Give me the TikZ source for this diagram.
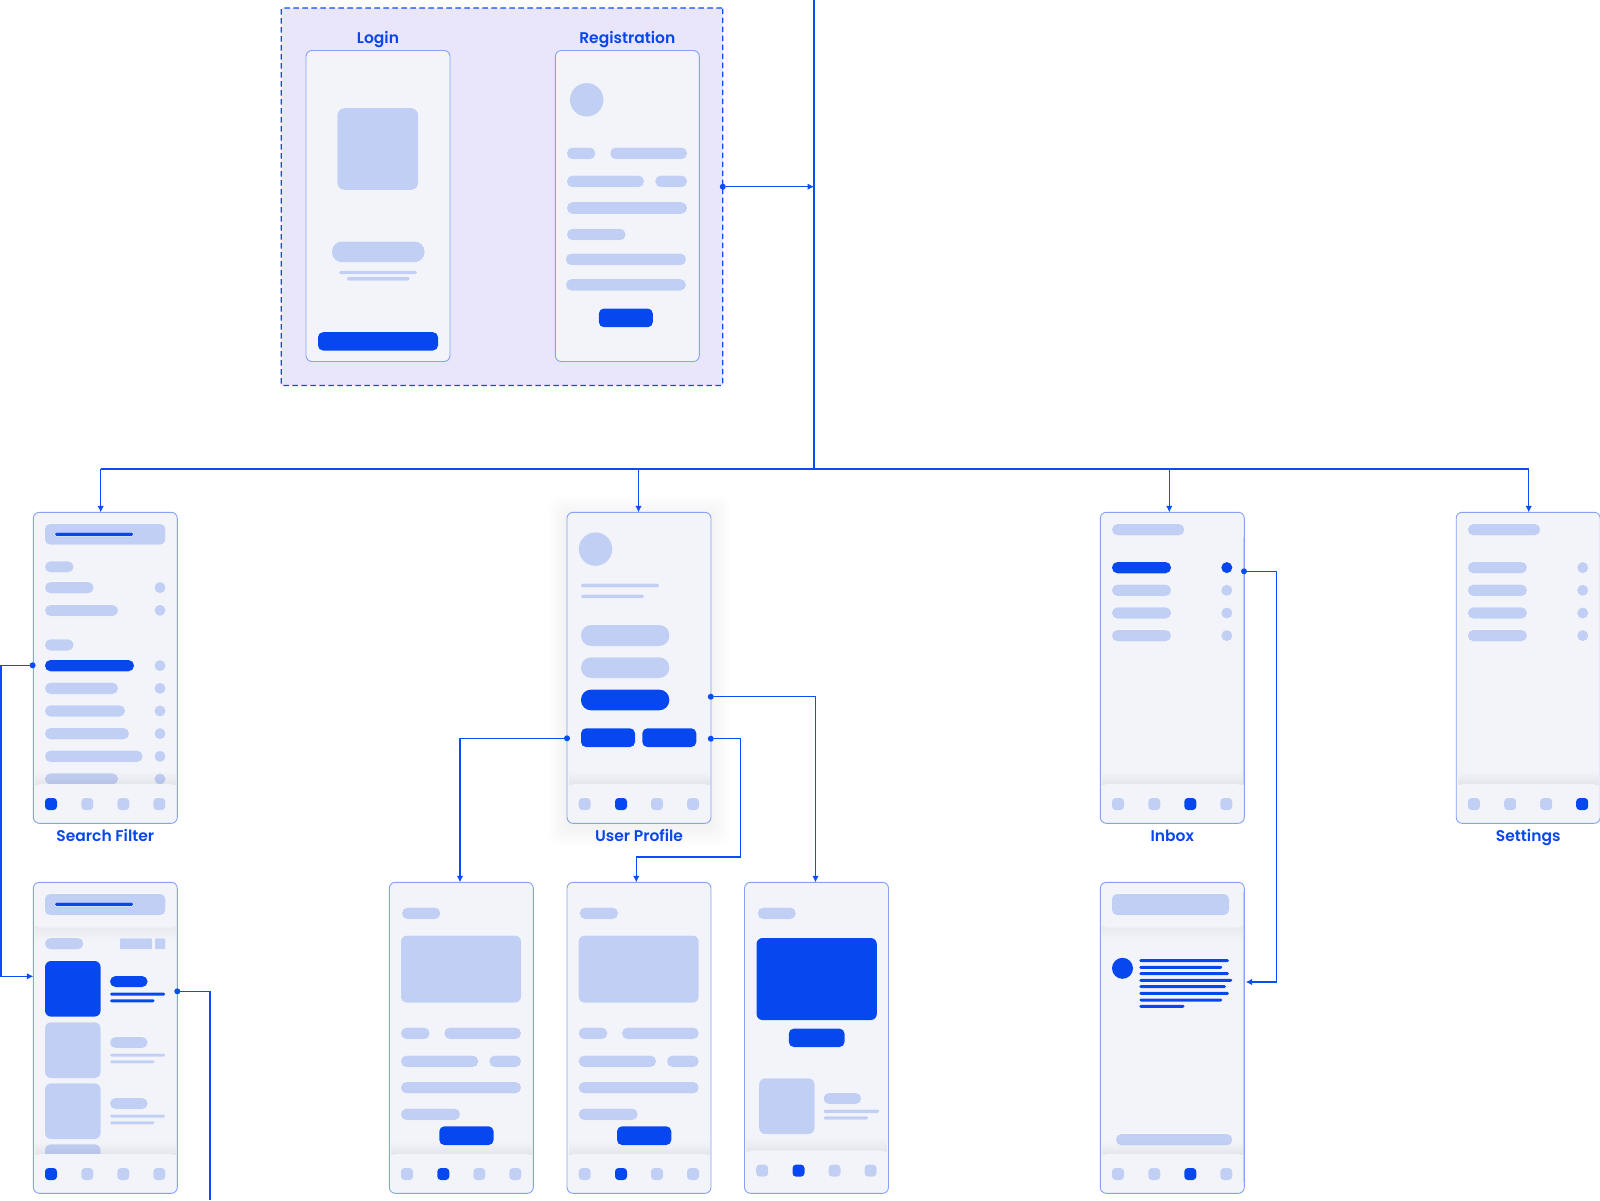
\documentclass[tikz,border=0pt]{standalone}
\usepackage{fontspec}
\setmainfont{Poppins}[BoldFont={* SemiBold}]
\usetikzlibrary{arrows.meta,fadings}
\definecolor{pale}{HTML}{C2CFF4}
\definecolor{vivid}{HTML}{0647F0}
\definecolor{wire}{HTML}{0A4CF5}
\definecolor{scr}{HTML}{F2F4F9}
\definecolor{frameline}{HTML}{85A3F4}
\definecolor{lilac}{HTML}{E9E5FB}
\definecolor{halo}{HTML}{F9FAFD}
\tikzset{
  x=1pt,y=-1pt,
  screen/.style={draw=frameline,line width=.9pt,fill=scr,rounded corners=6pt,
    minimum width=144pt,minimum height=311pt,anchor=north west,inner sep=0pt,outer sep=0pt},
  screenlabel/.style={text=vivid,font=\bfseries\fontsize{15.5}{18}\selectfont,inner sep=0pt,anchor=base},
  wireline/.style={draw=wire,line width=1.1pt},
  arrowline/.style={wireline,-{Latex[length=6.5pt,width=6.5pt]}},
  dotnode/.style={circle,fill=wire,minimum size=6pt,inner sep=0pt,outer sep=0pt},
}
% \rr{colour}{radius}{x1}{y1}{x2}{y2}
\newcommand{\rr}[6]{\path[preaction={draw=halo,line width=.9pt},fill=#1,rounded corners=#2pt] (#3,#4) rectangle (#5,#6);}
\newcommand{\pl}[4]{\rr{pale}{5.5}{#1}{#2}{#3}{#4}}
\newcommand{\bpl}[4]{\rr{vivid}{5.5}{#1}{#2}{#3}{#4}}
\newcommand{\lnp}[4]{\rr{pale}{1.5}{#1}{#2}{#3}{#4}}
\newcommand{\bln}[4]{\rr{vivid}{1.5}{#1}{#2}{#3}{#4}}
\newcommand{\dotp}[2]{\path[preaction={draw=halo,line width=.7pt},fill=pale] (#1,#2) circle (5.5pt);}
\newcommand{\dotb}[2]{\path[preaction={draw=halo,line width=.7pt},fill=vivid] (#1,#2) circle (5.5pt);}
% \navbar{top}{active 1-4}
\newcommand{\navbar}[2]{%
  \fill[black,opacity=.06,path fading=north] (1.5,#1-13) rectangle (142.5,#1+1);
  \fill[scr,rounded corners=6pt] (1.5,#1) rectangle (142.5,309.5);
  \foreach \k/\xx in {1/11.7,2/48,3/84,4/120}{%
    \ifnum\k=#2\relax \rr{vivid}{3.5}{\xx}{#1+14}{\xx+12}{#1+26}\else \rr{pale}{3.5}{\xx}{#1+14}{\xx+12}{#1+26}\fi
  }}
% shadow under a header panel
\newcommand{\headpanel}{%
  \fill[black,opacity=.04,path fading=south] (1.5,44) rectangle (142.5,58);
  \fill[scr,rounded corners=6pt] (1.5,1.5) rectangle (142.5,45.3);}
\begin{document}
\begin{tikzpicture}
\useasboundingbox (0,0) rectangle (1600,1200);
\fill[white] (0,0) rectangle (1600,1200);

% dashed group
\node[draw=wire,dash pattern=on 5.5pt off 3.5pt,line width=1.3pt,fill=lilac,rounded corners=1pt,
  minimum width=441.5pt,minimum height=377.5pt,anchor=north west,inner sep=0pt,outer sep=0pt] (group) at (281.3,8) {};

% soft shadow of the User Profile screen
\foreach \i in {1,...,12}{
  \fill[vivid,opacity=.003,rounded corners=8pt] (567-1.6*\i,512.3+3-1.6*\i) rectangle (711+1.6*\i,823.3+3+1.6*\i);
}

% screens
\node[screen] (login) at (306,50.5) {};
\node[screen] (registration) at (555.3,50.5) {};
\node[screen] (filter) at (33.3,512.3) {};
\node[screen] (profile) at (567,512.3) {};
\node[screen] (inbox) at (1100.3,512.3) {};
\node[screen] (settings) at (1456.2,512.3) {};
\node[screen] (results) at (33.3,882.3) {};
\node[screen] (detailA) at (389.3,882.3) {};
\node[screen] (detailB) at (567,882.3) {};
\node[screen] (detailC) at (744.5,882.3) {};
\node[screen] (message) at (1100.3,882.3) {};

% labels
\path (login.north) ++(0,-6.6) node[screenlabel] {Login};
\path (registration.north) ++(0,-6.6) node[screenlabel] {Registration};
\path (filter.south) ++(0,18.3) node[screenlabel] {Search Filter};
\path (profile.south) ++(0,18.3) node[screenlabel] {User Profile};
\path (inbox.south) ++(0,18.3) node[screenlabel] {Inbox};
\path (settings.south) ++(0,18.3) node[screenlabel] {Settings};

% Login
\begin{scope}[shift={(306,50.5)}]
  \rr{pale}{7}{31.4}{57.7}{112.1}{139.3}
  \rr{pale}{10}{26}{191}{118.6}{211.7}
  \lnp{33.2}{220.3}{111}{223.7}
  \lnp{41}{226.3}{103.6}{230}
  \rr{vivid}{5}{12}{281.7}{132}{300}
\end{scope}

% Registration
\begin{scope}[shift={(555.3,50.5)}]
  \fill[pale] (31.4,49.3) circle (16.7pt);
  \pl{11.7}{97}{40}{108.7} \pl{55}{97}{131.7}{108.7}
  \pl{11.7}{125}{88.6}{136.7} \pl{100}{125}{131.7}{136.7}
  \pl{11.7}{151.7}{131.7}{163.3}
  \pl{11.7}{178.3}{70.3}{189.7}
  \pl{10.6}{203}{130.6}{214.7}
  \pl{10.6}{228.7}{130.6}{240}
  \rr{vivid}{5}{43.6}{258}{97.5}{276.7}
\end{scope}

% Search Filter
\begin{scope}[shift={(33.3,512.3)}]
  \rr{pale}{5}{11.7}{11.7}{132}{32.3}
  \bln{21.7}{20.4}{100}{23.6}
  \pl{11.7}{49}{40.3}{60}
  \pl{11.7}{69.7}{60.3}{81} \dotp{126.7}{75.3}
  \pl{11.7}{92.7}{84.7}{103.7} \dotp{126.7}{98}
  \pl{11.7}{127}{40.3}{138.3}
  \bpl{11.7}{147.7}{100.7}{159} \dotp{126.7}{153.3}
  \pl{11.7}{170.3}{84.7}{181.7} \dotp{126.7}{176}
  \pl{11.7}{193}{91.7}{204.3} \dotp{126.7}{198.7}
  \pl{11.7}{215.7}{95.7}{227} \dotp{126.7}{221.3}
  \pl{11.7}{238.3}{109.3}{249.7} \dotp{126.7}{244}
  \pl{11.7}{261}{84.7}{272.3} \dotp{126.7}{266.7}
  \navbar{271.7}{1}
\end{scope}

% User Profile
\begin{scope}[shift={(567,512.3)}]
  \fill[pale] (28.5,36.8) circle (16.7pt);
  \lnp{14}{71.3}{92}{75}
  \lnp{14}{82.3}{77}{85.7}
  \rr{pale}{10}{14}{112.7}{102.3}{133.7}
  \rr{pale}{10}{14}{145}{102.3}{165.7}
  \rr{vivid}{10}{14}{177.3}{102.3}{198}
  \rr{vivid}{5}{14}{216}{68}{234.7}
  \rr{vivid}{5}{75.3}{216}{129.3}{234.7}
  \navbar{271.7}{2}
\end{scope}

% Inbox
\begin{scope}[shift={(1100.3,512.3)}]
  \draw[pale,line width=.9pt] (142.8,25) -- (142.8,272);
  \pl{11.7}{11.7}{84}{23}
  \bpl{11.7}{49.7}{70.7}{61} \dotb{126.5}{55.3}
  \pl{11.7}{72.3}{70.7}{83.7} \dotp{126.5}{78}
  \pl{11.7}{95}{70.7}{106.3} \dotp{126.5}{100.7}
  \pl{11.7}{117.7}{70.7}{129} \dotp{126.5}{123.3}
  \navbar{271.7}{3}
\end{scope}

% Settings
\begin{scope}[shift={(1456.2,512.3)}]
  \pl{11.7}{11.7}{84}{23}
  \pl{11.7}{49.7}{70.7}{61} \dotp{126.5}{55.3}
  \pl{11.7}{72.3}{70.7}{83.7} \dotp{126.5}{78}
  \pl{11.7}{95}{70.7}{106.3} \dotp{126.5}{100.7}
  \pl{11.7}{117.7}{70.7}{129} \dotp{126.5}{123.3}
  \navbar{271.7}{4}
\end{scope}

% Results
\begin{scope}[shift={(33.3,882.3)}]
  \headpanel
  \rr{pale}{5}{11.7}{11.7}{132}{32.7}
  \bln{21.7}{20.4}{100}{23.6}
  \pl{11.7}{55.7}{50}{67}
  \rr{pale}{1}{86.7}{56}{118.7}{66.7}
  \rr{pale}{1}{121.7}{56}{132}{66.7}
  \rr{vivid}{6}{11.7}{78.7}{67.3}{134.3}
  \bpl{76.7}{93.7}{114.3}{104.7}
  \bln{76.7}{110.3}{132}{113.3}
  \bln{76.7}{117}{121.3}{120}
  \rr{pale}{6}{11.7}{140}{67.3}{195.7}
  \pl{76.7}{154.7}{114.3}{165.7}
  \lnp{76.7}{171.3}{132}{174.3}
  \lnp{76.7}{178}{121.3}{181}
  \rr{pale}{6}{11.7}{201}{67.3}{256.7}
  \pl{76.7}{215.7}{114.3}{226.7}
  \lnp{76.7}{232.3}{132}{235.3}
  \lnp{76.7}{239}{121.3}{242}
  \rr{pale}{6}{11.7}{262}{67.3}{290}
  \navbar{271.7}{1}
\end{scope}

% Detail A and B
\foreach \ox in {389.3,567}{
\begin{scope}[shift={(\ox,882.3)}]
  \pl{12.7}{25.3}{51}{36.7}
  \rr{pale}{6}{11.7}{53.3}{131.7}{120.3}
  \pl{11.7}{145.3}{40.3}{156.7} \pl{55}{145.3}{131.7}{156.7}
  \pl{11.7}{173.3}{89}{184.7} \pl{100}{173.3}{131.7}{184.7}
  \pl{11.7}{199.7}{131.7}{211}
  \pl{11.7}{226.3}{70.7}{237.7}
  \rr{vivid}{5}{50}{244}{104.3}{262.7}
  \navbar{271.7}{2}
\end{scope}}

% Detail C
\begin{scope}[shift={(744.5,882.3)}]
  \pl{13.3}{25.3}{51.3}{36.7}
  \rr{vivid}{6}{12}{55.7}{132.3}{137.7}
  \rr{vivid}{5}{44.3}{146.3}{100}{164.7}
  \rr{pale}{6}{14.7}{196}{70}{251.7}
  \pl{79}{210.7}{116.7}{221.7}
  \lnp{79}{227.3}{134.7}{230.7}
  \lnp{79}{234}{123.7}{237.3}
  \navbar{268.3}{2}
\end{scope}

% Message
\begin{scope}[shift={(1100.3,882.3)}]
  \draw[pale,line width=.9pt] (142.8,10) -- (142.8,300);
  \headpanel
  \rr{pale}{5}{11.7}{11.7}{128.7}{32.7}
  \fill[vivid] (22.2,86) circle (10.5pt);
  \foreach \yy/\xe in {78.3/128.7,85/122,91.3/128.7,98/132,104.3/125.7,111/128.7,117.7/122,124/84.3}{
    \bln{39}{\yy-1.5}{\xe}{\yy+1.5}
  }
  \pl{15.7}{251.7}{132}{263}
  \navbar{271.7}{3}
\end{scope}

% named points of the connectors
\coordinate (top) at (814,0);
\coordinate (bus) at (814,469);
\coordinate (busL) at (100.7,469);
\coordinate (busP) at (638.5,469);
\coordinate (busI) at (1169.3,469);
\coordinate (busS) at (1528.7,469);
\coordinate (bend1) at (1,665.3);
\coordinate (into) at (results.west |- 0,976.3);
\coordinate (bottom) at (210,1200);
\coordinate (a2) at (740.3,857);
\coordinate (a3) at (636.3,857);

% connectors
\draw[wireline] (top) -- (bus);
\draw[wireline] (busL) -- (busS);
\draw[arrowline] (busL) -- (busL |- filter.north);
\draw[arrowline] (busP) -- (busP |- profile.north);
\draw[arrowline] (busI) -- (busI |- inbox.north);
\draw[arrowline] (busS) -- (busS |- settings.north);

\node[dotnode] (dGroup) at (722.8,186.7) {};
\draw[arrowline] (dGroup) -- (bus |- dGroup);

\node[dotnode] (dFilter) at (32.6,665.3) {};
\draw[arrowline] (dFilter) -- (bend1) -- (bend1 |- into) -- (into);

\node[dotnode] (dResults) at (177.3,991.3) {};
\draw[wireline] (dResults) -| (bottom);

\node[dotnode] (dProfileL) at (567,738.3) {};
\draw[arrowline] (dProfileL) -| (460,882.3);

\node[dotnode] (dProfileT) at (710.8,696.7) {};
\draw[arrowline] (dProfileT) -| (815.5,882.3);

\node[dotnode] (dProfileB) at (710.8,738.7) {};
\draw[arrowline] (dProfileB) -- (a2 |- dProfileB) -- (a2) -- (a3) -- (a3 |- detailB.north);

\node[dotnode] (dInbox) at (1244,571.3) {};
\draw[arrowline] (dInbox) -- (1276.7,571.3) -- (1276.7,982) -- (1245.7,982);
\end{tikzpicture}
\end{document}
